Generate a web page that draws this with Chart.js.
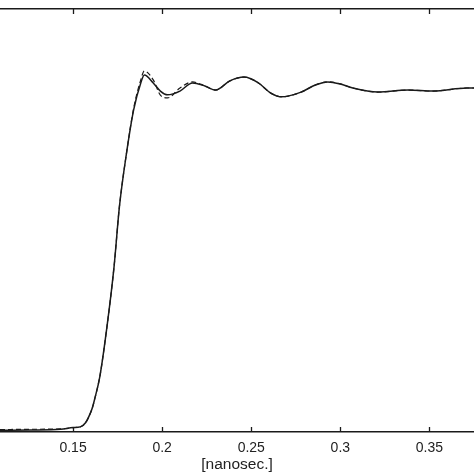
<!DOCTYPE html>
<html>
<head>
<meta charset="utf-8">
<script src="https://cdn.jsdelivr.net/npm/chart.js@4/dist/chart.umd.min.js"></script>
<style>
  html, body { margin: 0; padding: 0; background: #fff; }
  #wrap { width: 474px; height: 474px; }
</style>
</head>
<body>
<div id="wrap"><canvas id="chart" width="474" height="474"></canvas></div>
<script>
// time axis in nanoseconds
const timeNs = [0.109, 0.126, 0.143, 0.150, 0.154, 0.157, 0.160, 0.161, 0.162, 0.165,
    0.169, 0.173, 0.176, 0.180, 0.184, 0.188, 0.190, 0.195, 0.199, 0.203,
    0.210, 0.217, 0.224, 0.230, 0.238, 0.246, 0.254, 0.261, 0.267, 0.278,
    0.286, 0.293, 0.300, 0.307, 0.321, 0.338, 0.352, 0.371, 0.375];
// measured response (solid)
const solidValues = [0.000, 0.001, 0.003, 0.008, 0.010, 0.022, 0.054, 0.069, 0.089, 0.157,
    0.303, 0.480, 0.656, 0.814, 0.941, 1.020, 1.043, 1.020, 0.996, 0.985,
    0.996, 1.020, 1.011, 0.999, 1.026, 1.037, 1.020, 0.990, 0.979, 0.993,
    1.014, 1.023, 1.017, 1.005, 0.993, 0.999, 0.996, 1.005, 1.005];
// model response (dashed)
const dashedValues = [0.002, 0.003, 0.004, 0.008, 0.010, 0.022, 0.054, 0.069, 0.089, 0.157,
    0.303, 0.480, 0.656, 0.814, 0.945, 1.029, 1.055, 1.029, 0.984, 0.976,
    1.005, 1.023, 1.011, 0.999, 1.026, 1.037, 1.020, 0.990, 0.979, 0.993,
    1.014, 1.023, 1.017, 1.005, 0.993, 0.999, 0.996, 1.005, 1.005];
const xTicks = [0.15, 0.2, 0.25, 0.3, 0.35];
const xLabel = '[nanosec.]';

const ink = '#1a1a1a';

// little inward tick marks on top and bottom frame, like the original plot
const innerTicks = {
    id: 'innerTicks',
    afterDraw(chart) {
        const ctx = chart.ctx;
        const area = chart.chartArea;
        const sx = chart.scales.x;
        ctx.save();
        ctx.strokeStyle = ink;
        ctx.lineWidth = 1.3;
        xTicks.forEach(v => {
            const px = Math.round(sx.getPixelForValue(v)) + 0.5;
            ctx.beginPath();
            ctx.moveTo(px, area.bottom);
            ctx.lineTo(px, area.bottom - 5);
            ctx.moveTo(px, area.top);
            ctx.lineTo(px, area.top + 5);
            ctx.stroke();
        });
        ctx.restore();
    }
};

new Chart(document.getElementById('chart'), {
    type: 'line',
    data: {
        datasets: [{
            data: timeNs.map((t, i) => ({ x: t, y: solidValues[i] })),
            borderColor: ink,
            borderWidth: 1.5,
            pointRadius: 0,
            cubicInterpolationMode: 'monotone',
            fill: false
        }, {
            data: timeNs.map((t, i) => ({ x: t, y: dashedValues[i] })),
            borderColor: ink,
            borderWidth: 1.2,
            borderDash: [5, 3],
            pointRadius: 0,
            cubicInterpolationMode: 'monotone',
            fill: false
        }]
    },
    plugins: [innerTicks],
    options: {
        responsive: false,
        animation: false,
        layout: { padding: { top: 9, left: 0, right: 0, bottom: 0 } },
        plugins: { legend: { display: false }, tooltip: { enabled: false } },
        scales: {
            x: {
                type: 'linear',
                min: 0.109,
                max: 0.375,
                afterFit: s => { s.height = 42; },
                afterBuildTicks: s => { s.ticks = xTicks.map(v => ({ value: v })); },
                border: { display: true, color: ink, width: 1.5 },
                grid: { display: false, drawTicks: false },
                ticks: {
                    color: '#222',
                    padding: 8,
                    maxRotation: 0,
                    font: { family: 'Liberation Sans', size: 14 },
                    callback: v => Number(v.toFixed(2)).toString()
                },
                title: {
                    display: true,
                    text: xLabel,
                    color: '#222',
                    padding: { top: 1, bottom: 0 },
                    font: { family: 'Liberation Sans', size: 15.5 }
                }
            },
            xTop: {
                type: 'linear',
                position: 'top',
                min: 0.109,
                max: 0.375,
                afterFit: s => { s.height = 0; },
                border: { display: true, color: ink, width: 1.5 },
                grid: { display: false, drawTicks: false },
                ticks: { display: false }
            },
            y: {
                display: false,
                min: -0.005,
                max: 1.237
            }
        }
    }
});
</script>
</body>
</html>
